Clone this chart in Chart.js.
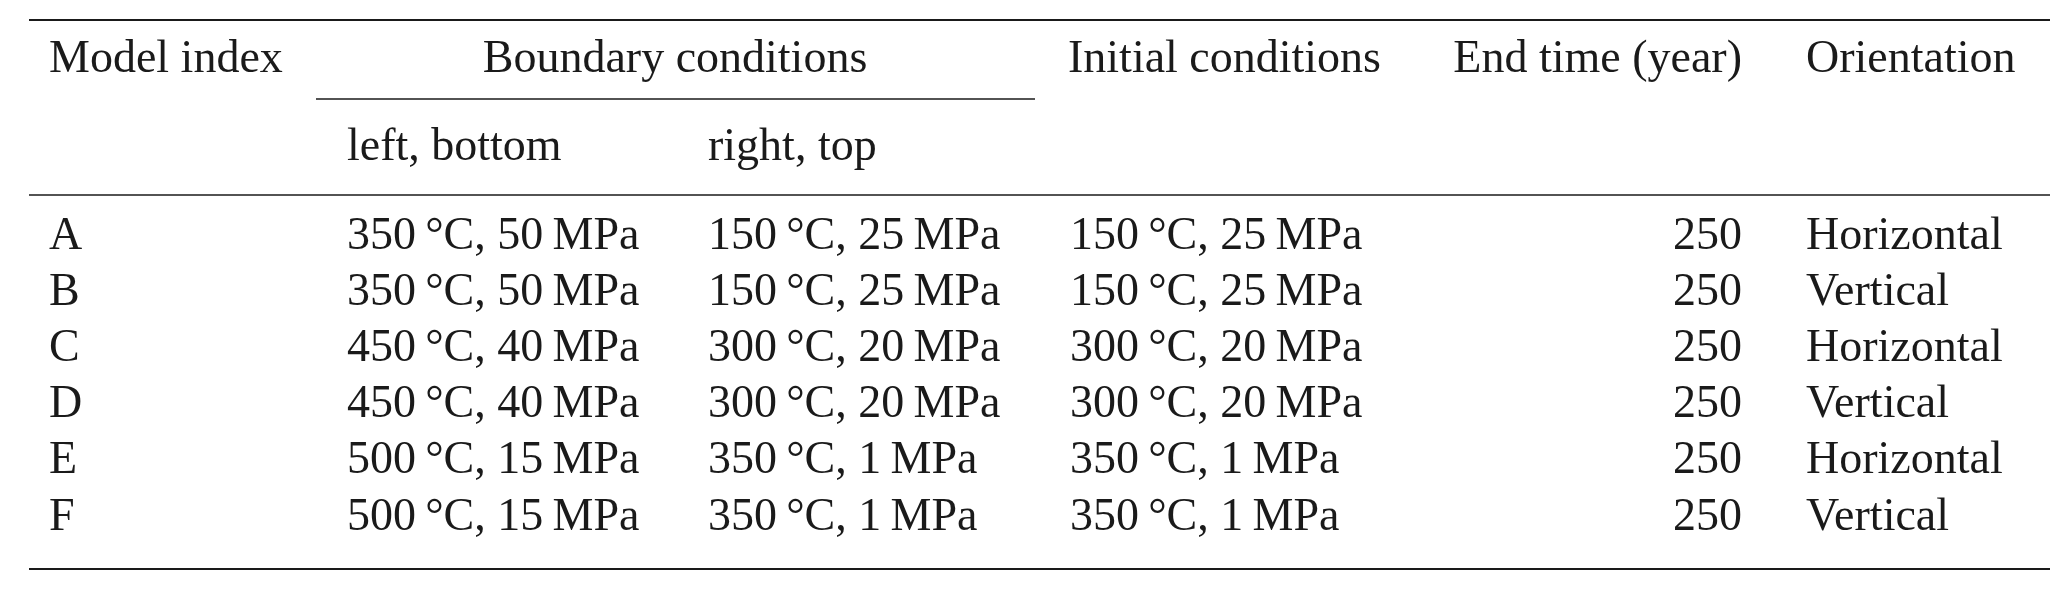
<!DOCTYPE html>
<html><head><meta charset="utf-8">
<script src="https://cdn.jsdelivr.net/npm/chart.js@4"></script>
<style>html,body{margin:0;padding:0;background:#fff}#w{width:2067px;height:589px}</style>
</head><body><div id="w"><canvas id="c"></canvas></div>
<script>
const modelIndex = ["A","B","C","D","E","F"];
const leftBottom = ["350\u2009°C, 50\u2009MPa","350\u2009°C, 50\u2009MPa","450\u2009°C, 40\u2009MPa","450\u2009°C, 40\u2009MPa","500\u2009°C, 15\u2009MPa","500\u2009°C, 15\u2009MPa"];
const rightTop = ["150\u2009°C, 25\u2009MPa","150\u2009°C, 25\u2009MPa","300\u2009°C, 20\u2009MPa","300\u2009°C, 20\u2009MPa","350\u2009°C, 1\u2009MPa","350\u2009°C, 1\u2009MPa"];
const initialCond = ["150\u2009°C, 25\u2009MPa","150\u2009°C, 25\u2009MPa","300\u2009°C, 20\u2009MPa","300\u2009°C, 20\u2009MPa","350\u2009°C, 1\u2009MPa","350\u2009°C, 1\u2009MPa"];
const endTime = [250,250,250,250,250,250];
const orientation = ["Horizontal","Vertical","Horizontal","Vertical","Horizontal","Vertical"];
const headers = ["Model index","Boundary conditions","Initial conditions","End time (year)","Orientation"];
const subHeaders = ["left, bottom","right, top"];

const colX = [49, 347, 708, 1070, 1742, 1806];
const rowY = [237, 293, 349, 405, 461, 518];
const FONT = '46px "Liberation Serif", "DejaVu Serif", serif';

const tablePlugin = {
  id:'table',
  afterDraw(chart){
    const c = chart.ctx, xs = chart.scales.x, ys = chart.scales.y;
    const X = v=>xs.getPixelForValue(v), Y = v=>ys.getPixelForValue(v);
    c.save();
    c.fillStyle='#1a1a1a'; c.strokeStyle='#1a1a1a';
    c.font = FONT; c.textBaseline='middle';
    const hl=(x1,x2,y,w)=>{c.lineWidth=w;c.beginPath();c.moveTo(X(x1),Y(y));c.lineTo(X(x2),Y(y));c.stroke();};
    hl(29,2050,20,2); hl(316,1035,99,1.5); hl(29,2050,195,1.5); hl(29,2050,569,2);
    const t=(s,x,y,a)=>{c.textAlign=a||'left';c.fillText(s,X(x),Y(y));};
    t(headers[0],49,60); t(headers[1],675,60,'center'); t(headers[2],1068,60);
    t(headers[3],1742,60,'right'); t(headers[4],1806,60);
    t(subHeaders[0],347,148); t(subHeaders[1],708,148);
    chart.data.datasets[0].data.forEach((p,i)=>{
      const y=p.y;
      t(modelIndex[i],colX[0],y); t(leftBottom[i],colX[1],y); t(rightTop[i],colX[2],y);
      t(initialCond[i],colX[3],y); t(String(endTime[i]),colX[4],y,'right'); t(orientation[i],colX[5],y);
    });
    c.restore();
  }
};

new Chart(document.getElementById('c'),{
  type:'scatter',
  data:{datasets:[{data:modelIndex.map((m,i)=>({x:colX[0],y:rowY[i]})),pointRadius:0}]},
  options:{responsive:true,maintainAspectRatio:false,animation:false,
    layout:{padding:0},
    plugins:{legend:{display:false},tooltip:{enabled:false}},
    scales:{x:{type:'linear',min:0,max:2067,display:false},
            y:{type:'linear',min:0,max:589,reverse:true,display:false}}},
  plugins:[tablePlugin]
});
</script></body></html>
